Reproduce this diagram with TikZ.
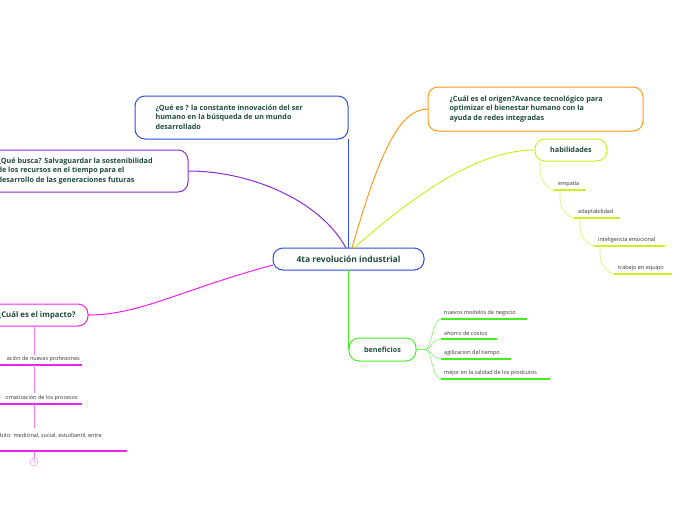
\documentclass[tikz,border=0pt]{standalone}
\usepackage{fontspec}
\setmainfont{Open Sans}
\begin{document}
\begin{tikzpicture}[x=1pt,y=-1pt,
 txt/.style={text=tgreen,font=\bfseries\fontsize{7.2}{9.5}\selectfont,align=left},
 box/.style={draw,line width=1pt,rounded corners=10pt,inner sep=0pt},
 sub/.style={font=\fontsize{5.5}{6.5}\selectfont,anchor=south west,inner sep=1pt,text=black!80},
 ul/.style={line width=1.3pt}]
\definecolor{tgreen}{HTML}{1D4A3C}
\definecolor{cblue}{HTML}{2B4DE0}
\definecolor{cpurp}{HTML}{8A2BE2}
\definecolor{cmag}{HTML}{EE22EE}
\definecolor{corg}{HTML}{FF9A1A}
\definecolor{cyel}{HTML}{CCEE22}
\definecolor{cgrn}{HTML}{44EE22}
\useasboundingbox (0,0) rectangle (697,520);
% boxes
\draw[box,cblue] (273,248) rectangle (424,270);
\node[text=tgreen,font=\bfseries\fontsize{8.5}{10}\selectfont] (c) at (348.5,259) {4ta revolución industrial};
\draw[box,cblue] (135,96) rectangle (348,139);
\node[txt,anchor=west] (q1) at (152,117) {¿Qué es ? la constante innovación del ser\\humano en la búsqueda de un mundo\\desarrollado};
\draw[box,cpurp] (-20,150) rectangle (188,192);
\node[txt,anchor=west] (q2) at (-6,171) {¿Qué busca? Salvaguardar la sostenibilidad\\de los recursos en el tiempo para el\\desarrollo de las generaciones futuras};
\draw[box,cmag] (-20,304) rectangle (88,326);
\node[txt,anchor=west,font=\bfseries\fontsize{7.8}{9}\selectfont] (imp) at (-6,315) {¿Cuál es el impacto?};
\draw[box,corg] (428,87) rectangle (643,131);
\node[txt,anchor=west] (or) at (446,109) {¿Cuál es el origen?Avance tecnológico para\\optimizar el bienestar humano con la\\ayuda de redes integradas};
\draw[box,cyel] (535,139) rectangle (607,161);
\node[txt] (hab) at (571,150) {habilidades};
\draw[box,cgrn] (349,338) rectangle (416,361);
\node[txt] (ben) at (382.5,349.5) {beneficios};
% main connectors
\draw[cblue,line width=1pt] (348,248) -- (348,139);
\draw[cpurp,line width=1pt] (346,248) .. controls (320,200) and (250,171) .. (188,171);
\draw[cmag,line width=1pt] (273,265) .. controls (180,290) and (140,315) .. (88,315);
\draw[corg,line width=1pt] (352,248) .. controls (380,150) and (400,109) .. (428,109);
\draw[cyel,line width=1pt] (354,248) .. controls (420,190) and (480,150) .. (535,150);
\draw[cgrn,line width=1pt] (348,270) -- (348,349.5) -- (349,349.5);
% beneficios subs
\foreach \y/\e/\t in {319/527/nuevos modelos de negocio,339/497/ahorro de costos,359/511/agilizacion del tiempo,379/550/mejor en la calidad de los prodcutos}{
 \draw[cgrn,ul] (441,\y) -- (\e,\y);
 \node[sub] at (443,\y-2) {\t};
 \draw[cgrn!70,line width=0.6pt] (416,349.5) -- (425,349.5) .. controls (432,349.5) and (432,\y) .. (441,\y);
}
% habilidades subs
\foreach \x/\y/\e/\t/\px/\py in {554/190/586/empatía/540/161,574/218/620/adaptabilidad/560/190,594/246/665/inteligencia emocional/580/218,614/274/672/trabajo en equipo/600/246}{
 \draw[cyel,ul] (\x,\y) -- (\e,\y);
 \node[sub] at (\x+3,\y-2) {\t};
 \draw[cyel!70,line width=0.6pt] (\px,\py) -- (\px,\py+10) .. controls (\px,\y-8) and (\x-4,\y) .. (\x,\y);
}
% impacto subs
\foreach \y/\e in {365/82,404/82,451/127}{
 \draw[cmag,ul] (-5,\y) -- (\e,\y);
}
\node[sub,anchor=south east] (s1) at (81,363) {ación de nuevas profesiones};
\node[sub,anchor=south east] (s2) at (79,402) {omatización de los procesos};
\node[sub,anchor=south west] (s3) at (-1,439) {bito: medicinal, social, estudiantil, entre};
\draw[cmag!60,line width=0.6pt] (34,326) -- (34,355) (34,365) -- (34,393) (34,404) -- (34,428) (34,451) -- (34,458);
\node[draw=cmag!60,circle,inner sep=0.5pt,minimum size=8pt,text=cmag,font=\fontsize{5}{5}\selectfont] (n1) at (34,462) {1};
\end{tikzpicture}
\end{document}
